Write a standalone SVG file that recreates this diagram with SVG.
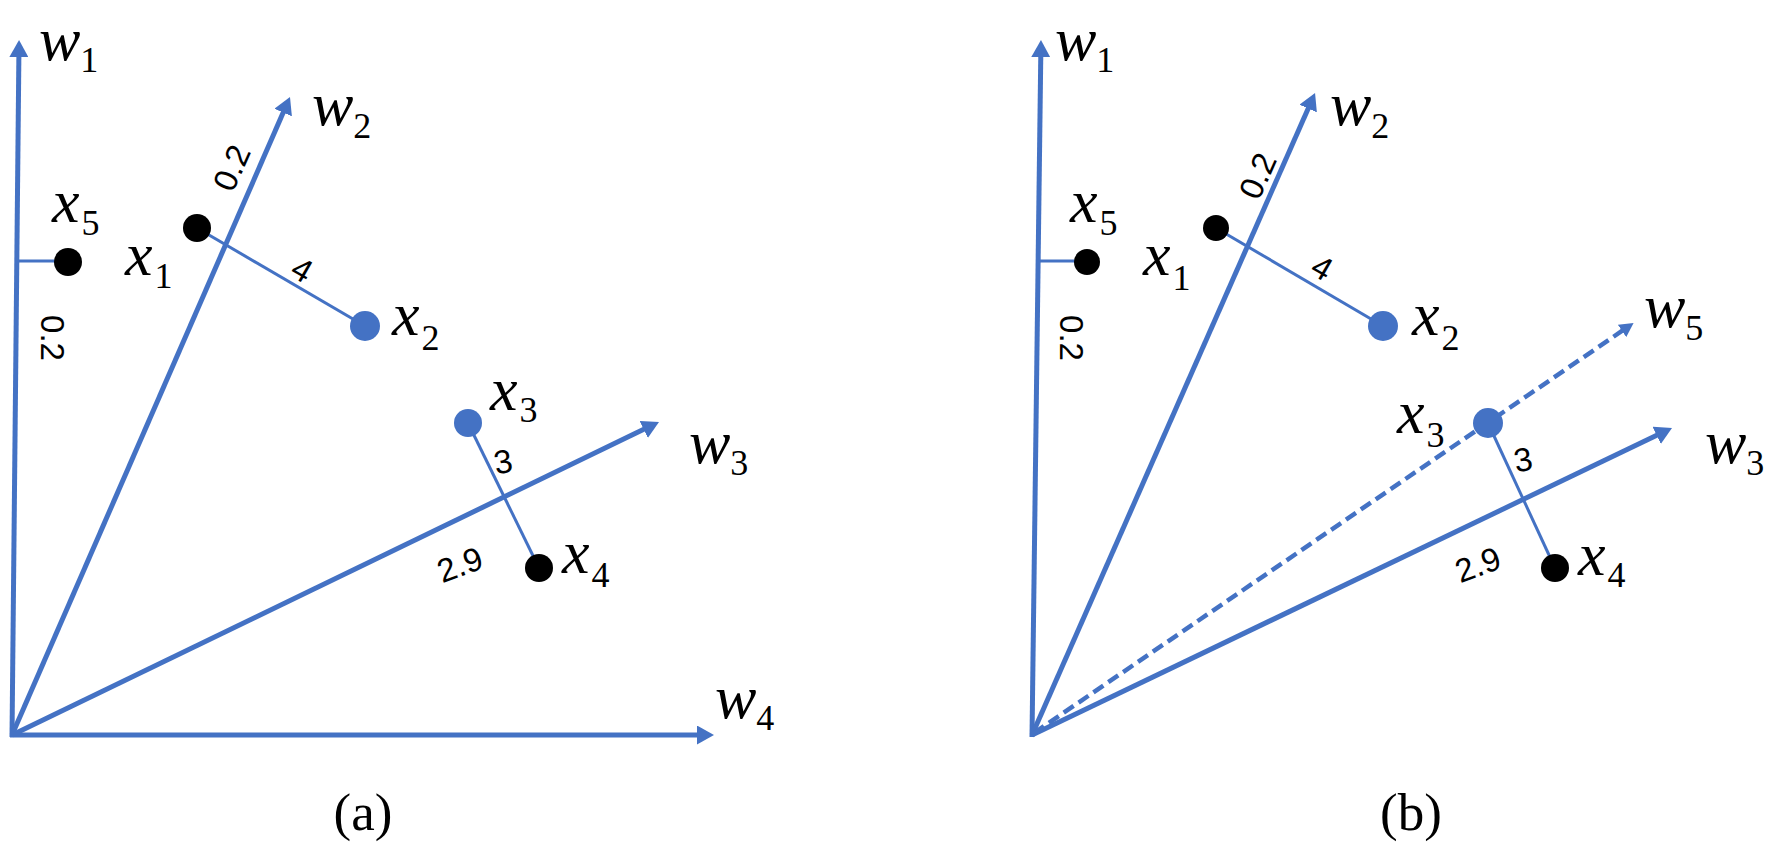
<svg xmlns="http://www.w3.org/2000/svg" width="1770" height="845" viewBox="0 0 1770 845">
<style>
.ax{stroke:#4472C4;stroke-width:5;fill:none;marker-end:url(#ah)}
.dash{stroke:#4472C4;stroke-width:4.5;fill:none;stroke-dasharray:12 6;marker-end:url(#ah2)}
.pl{stroke:#4472C4;stroke-width:3;fill:none}
.bd{fill:#4472C4}
.kd{fill:#000}
.m{font-family:"Liberation Serif",serif;font-style:italic;font-size:62px;fill:#000}
.s{font-style:normal;font-size:36px}
.n{font-family:"Liberation Sans",Arial,sans-serif;font-size:33px;fill:#000;text-anchor:middle}
.cap{font-family:"Liberation Serif","Times New Roman",serif;font-size:53px;fill:#000;text-anchor:middle}
</style>
<defs>
<marker id="ah" markerUnits="userSpaceOnUse" markerWidth="17" markerHeight="19" viewBox="0 0 17 19" refX="3" refY="9.5" orient="auto"><path d="M0,0 L17,9.5 L0,19 z" fill="#4472C4"/></marker>
<marker id="ah2" markerUnits="userSpaceOnUse" markerWidth="14" markerHeight="15" viewBox="0 0 14 15" refX="3" refY="7.5" orient="auto"><path d="M0,0 L14,7.5 L0,15 z" fill="#4472C4"/></marker>
</defs>
<rect width="1770" height="845" fill="#fff"/>
<g id="connectors">
<line class="ax" x1="12" y1="737" x2="18.9" y2="54"/>
<line class="ax" x1="12" y1="735" x2="284.4" y2="109.8"/>
<line class="ax" x1="12" y1="735" x2="646.4" y2="428.1"/>
<line class="ax" x1="10" y1="735" x2="700" y2="735"/>
<line class="pl" x1="17" y1="261" x2="66" y2="261"/>
<line class="pl" x1="197" y1="228" x2="365" y2="326"/>
<line class="pl" x1="468" y1="423" x2="539" y2="568"/>
<line class="ax" x1="1032" y1="737" x2="1040.8" y2="54"/>
<line class="ax" x1="1032" y1="735" x2="1309.4" y2="105.8"/>
<line class="ax" x1="1032" y1="735" x2="1659.4" y2="434.1"/>
<line class="dash" x1="1034" y1="733" x2="1624.5" y2="329.2"/>
<line class="pl" x1="1037" y1="261" x2="1086" y2="261"/>
<line class="pl" x1="1216" y1="228" x2="1383" y2="326"/>
<line class="pl" x1="1488" y1="423" x2="1555" y2="568"/>
</g>
<g id="axis-labels-a">
<text class="m" x="39" y="60">w<tspan class="s" dy="12">1</tspan></text>
<text class="m" x="312" y="125">w<tspan class="s" dy="13">2</tspan></text>
<text class="m" x="689" y="463">w<tspan class="s" dy="12">3</tspan></text>
<text class="m" x="715" y="718">w<tspan class="s" dy="12">4</tspan></text>
</g>
<g id="axis-labels-b">
<text class="m" x="1055" y="60">w<tspan class="s" dy="12">1</tspan></text>
<text class="m" x="1330" y="125">w<tspan class="s" dy="13">2</tspan></text>
<text class="m" x="1705" y="463">w<tspan class="s" dy="12">3</tspan></text>
<text class="m" x="1644" y="327">w<tspan class="s" dy="13">5</tspan></text>
</g>
<g id="a-x5"><circle class="kd" cx="68" cy="262" r="14"/><text class="m" x="52" y="222">x<tspan class="s" dx="2" dy="13">5</tspan></text></g>
<g id="a-x1"><circle class="kd" cx="197" cy="228" r="14"/><text class="m" x="125" y="275">x<tspan class="s" dx="2" dy="13">1</tspan></text></g>
<g id="a-x2"><circle class="bd" cx="365" cy="326" r="15"/><text class="m" x="392" y="335">x<tspan class="s" dx="2" dy="15">2</tspan></text></g>
<g id="a-x3"><circle class="bd" cx="468" cy="423" r="14"/><text class="m" x="490" y="410">x<tspan class="s" dx="2" dy="12">3</tspan></text></g>
<g id="a-x4"><circle class="kd" cx="539" cy="568" r="14"/><text class="m" x="562" y="573">x<tspan class="s" dx="2" dy="14">4</tspan></text></g>
<g id="a-nums">
<text class="n" transform="translate(52,338) rotate(90)" y="11">0.2</text>
<text class="n" transform="translate(232,168) rotate(-66)" y="11">0.2</text>
<text class="n" transform="translate(302,270) rotate(30)" y="11">4</text>
<text class="n" transform="translate(503,462) rotate(-10)" y="11">3</text>
<text class="n" transform="translate(460,565) rotate(-20)" y="11">2.9</text>
</g>
<g id="b-x5"><circle class="kd" cx="1087" cy="262" r="13"/><text class="m" x="1070" y="222">x<tspan class="s" dx="2" dy="13">5</tspan></text></g>
<g id="b-x1"><circle class="kd" cx="1216" cy="228" r="13"/><text class="m" x="1143" y="275">x<tspan class="s" dx="2" dy="15">1</tspan></text></g>
<g id="b-x2"><circle class="bd" cx="1383" cy="326" r="15"/><text class="m" x="1412" y="335">x<tspan class="s" dx="2" dy="15">2</tspan></text></g>
<g id="b-x3"><circle class="bd" cx="1488" cy="423" r="15"/><text class="m" x="1397" y="433">x<tspan class="s" dx="2" dy="14">3</tspan></text></g>
<g id="b-x4"><circle class="kd" cx="1555" cy="568" r="14"/><text class="m" x="1578" y="575">x<tspan class="s" dx="2" dy="12">4</tspan></text></g>
<g id="b-nums">
<text class="n" transform="translate(1071,338) rotate(90)" y="11">0.2</text>
<text class="n" transform="translate(1258,176) rotate(-66)" y="11">0.2</text>
<text class="n" transform="translate(1322,268) rotate(30)" y="11">4</text>
<text class="n" transform="translate(1523,460) rotate(-10)" y="11">3</text>
<text class="n" transform="translate(1478,565) rotate(-20)" y="11">2.9</text>
</g>
<g id="captions">
<text class="cap" x="363" y="830">(a)</text>
<text class="cap" x="1411" y="830">(b)</text>
</g>
</svg>
